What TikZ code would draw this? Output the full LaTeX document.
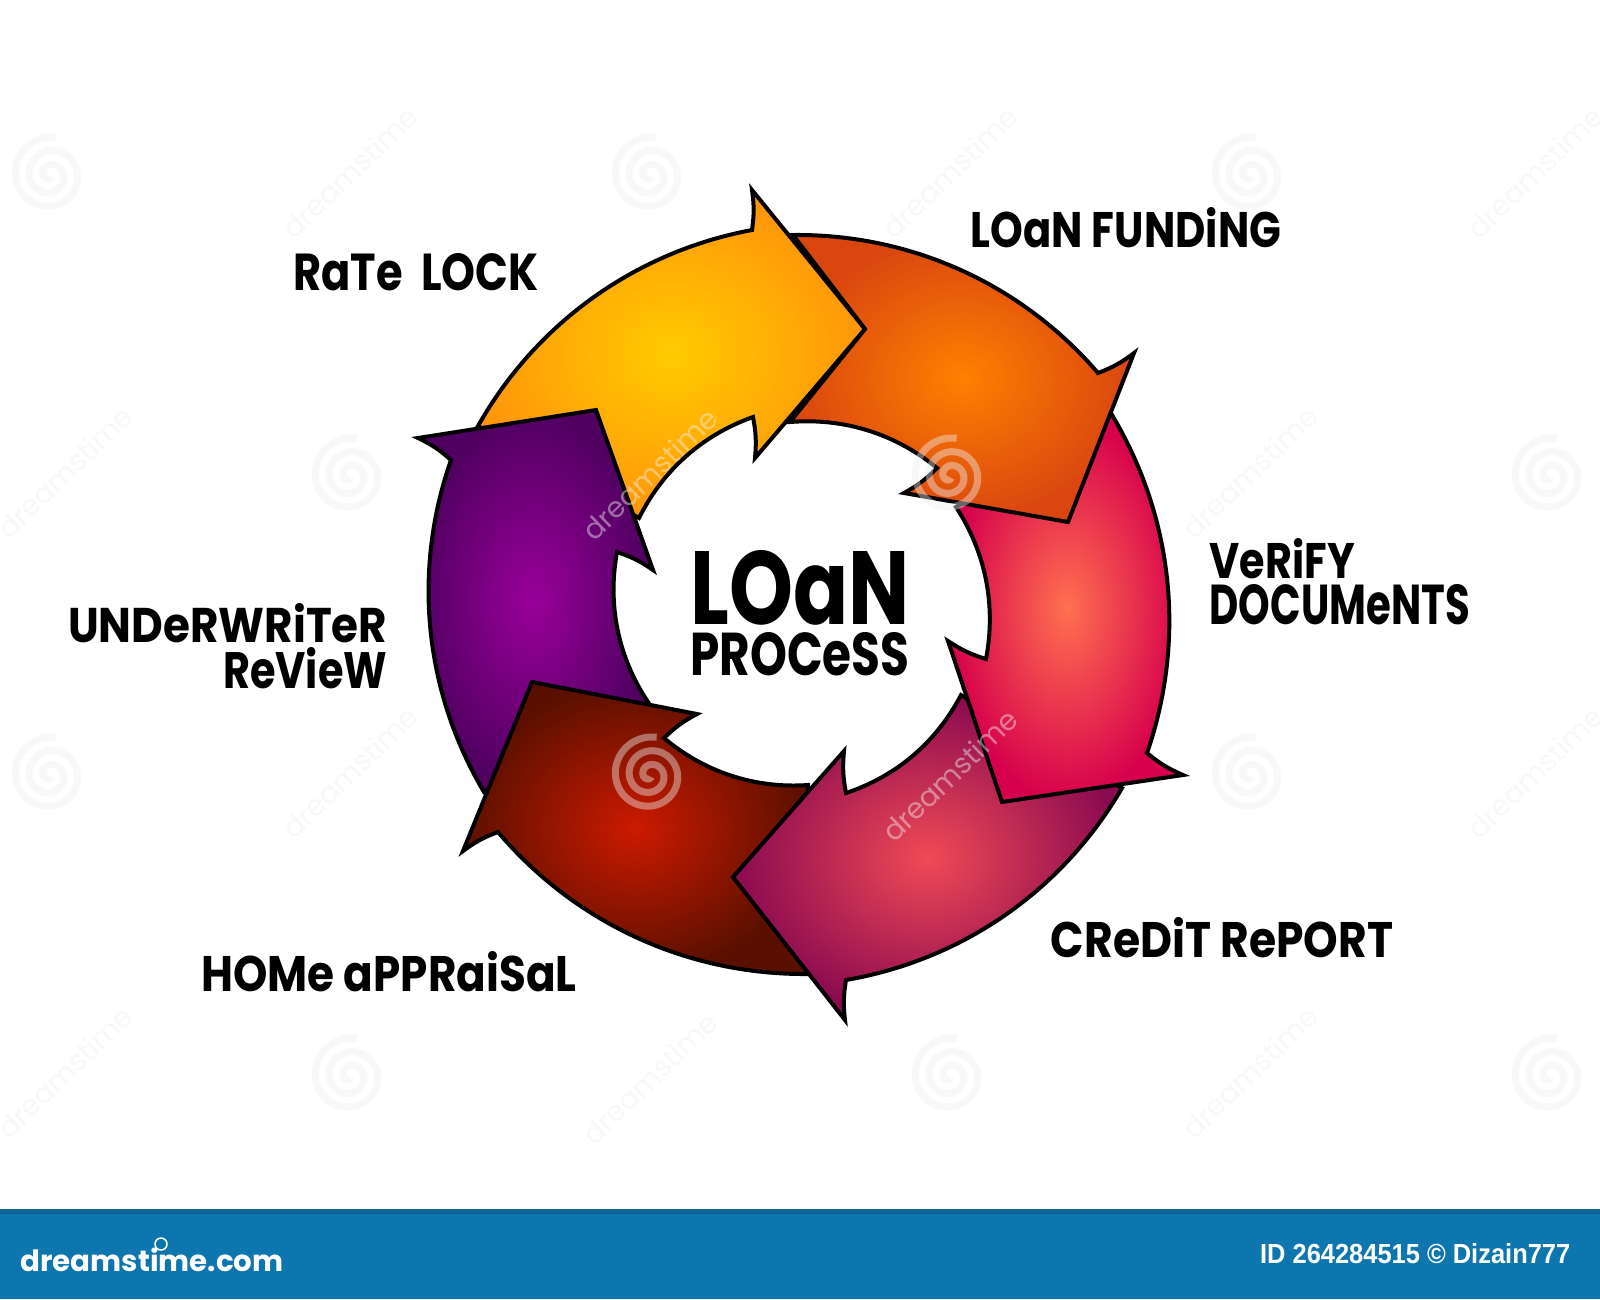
\documentclass[tikz,border=0pt]{standalone}
\usepackage{fontspec}
\usepackage{graphicx}
\setmainfont{Poppins}
\newfontfamily\footfont{Liberation Sans}
\definecolor{footbar}{HTML}{0E76AE}
\definecolor{markgray}{HTML}{F0F0F0}
\newcommand{\lettering}[3]{\resizebox{#1cm}{#2cm}{\bfseries #3}}
\tikzset{
  blade/.style={draw=black, line width=0.04cm, line join=miter},
  outerarc/.style={bend left=25, looseness=.9},
  innerarc/.style={bend right=22, looseness=.9},
  barbedge/.style={bend right=8},
  ratefill/.style={blade, inner color={rgb,255:red,255;green,204;blue,0}, outer color={rgb,255:red,255;green,150;blue,10}},
  fundfill/.style={blade, inner color={rgb,255:red,255;green,128;blue,0}, outer color={rgb,255:red,217;green,70;blue,16}},
  verifyfill/.style={blade, inner color={rgb,255:red,255;green,112;blue,80}, outer color={rgb,255:red,214;green,0;blue,76}},
  creditfill/.style={blade, inner color={rgb,255:red,240;green,74;blue,85}, outer color={rgb,255:red,138;green,10;blue,80}},
  homefill/.style={blade, inner color={rgb,255:red,204;green,26;blue,0}, outer color={rgb,255:red,90;green,16;blue,0}},
  reviewfill/.style={blade, inner color={rgb,255:red,153;green,0;blue,153}, outer color={rgb,255:red,79;green,0;blue,96}},
  label/.style={inner sep=0pt, text=black},
  wmspiral/.style={draw=markgray, opacity=.42, line width=0.07cm},
  wmtext/.style={text=markgray, opacity=.45, rotate=44, inner sep=0pt, font=\fontsize{8.1}{9}\selectfont}
}
\begin{document}
\begin{tikzpicture}[x=0.01cm, y=-0.01cm]
 \useasboundingbox (0,0) rectangle (1600,1299);
 \fill[white] (0,0) rectangle (1600,1299);

 \shadedraw[ratefill] (478,426) to[outerarc] (752,230) to[barbedge] (752,190) -- (865,329) -- (755,458) to[barbedge] (753,417) to[innerarc] (639,518) -- cycle;
 \shadedraw[reviewfill] (484,792) to[outerarc] (451,460) to[barbedge] (418,438) -- (596,410) -- (653,570) to[barbedge] (617,552) to[innerarc] (648,702) -- cycle;
 \shadedraw[homefill] (806,974) to[outerarc] (498,832) to[barbedge] (463,851) -- (532,682) -- (697,714) to[barbedge] (664,738) to[innerarc] (808,785) -- cycle;
 \shadedraw[creditfill] (1122,788) to[outerarc] (846,980) to[barbedge] (845,1020) -- (733,877) -- (844,751) to[barbedge] (846,793) to[innerarc] (961,695) -- cycle;
 \shadedraw[verifyfill] (1112,415) to[outerarc] (1147,753) to[barbedge] (1183,775) -- (1002,802) -- (948,641) to[barbedge] (986,659) to[innerarc] (956,507) -- cycle;
 \shadedraw[fundfill] (793,235) to[outerarc] (1098,373) to[barbedge] (1134,353) -- (1068,522) -- (904,493) to[barbedge] (937,468) to[innerarc] (790,422) -- (865,329) -- cycle;

 \node[label] (ratelock) at (416,272) {\lettering{2.45}{.37}{RaTe\ \ LOCK}};
 \node[label] (funding) at (1126,228) {\lettering{3.1}{.40}{LOaN FUNDiNG}};
 \node[label, anchor=west] (verify) at (1209,559) {\lettering{1.45}{.40}{VeRiFY}};
 \node[label, anchor=west] (documents) at (1209,605) {\lettering{2.6}{.40}{DOCUMeNTS}};
 \node[label] (credit) at (1222,938) {\lettering{3.42}{.40}{CReDiT RePORT}};
 \node[label] (appraisal) at (389,972) {\lettering{3.75}{.40}{HOMe aPPRaiSaL}};
 \node[label, anchor=east] (underwriter) at (388,623) {\lettering{3.19}{.39}{UNDeRWRiTeR}};
 \node[label, anchor=east] (review) at (388,668) {\lettering{1.64}{.41}{ReVieW}};
 \node[label] (loan) at (800,588) {\lettering{2.19}{.74}{LOaN}};
 \node[label] (process) at (800,654) {\lettering{2.19}{.43}{PROCeSS}};

 \foreach \mx/\my in {50/175,650/175,1250/175,350/476,950/476,1550/476,50/775,650/775,1250/775,350/1076,950/1076,1550/1076}
  \draw[wmspiral, shift={(\mx,\my)}] plot[domain=60:1000, samples=70, smooth, variable=\t] ({\t/26*cos(\t)},{\t/26*sin(\t)});
 \foreach \mx/\my [count=\mi] in {350/172,950/172,1535/172,65/472,650/474,1250/472,350/772,950/775,1535/772,65/1072,650/1078,1250/1072}
  \node[wmtext] (mark\mi) at (\mx,\my) {dreamstime};

 \fill[footbar] (0,1209) rectangle (1600,1299);
 \fill[footbar!85!black] (0,1209) rectangle (1600,1214);
 \node[inner sep=0pt, text=white] (site) at (152,1260) {\resizebox{2.63cm}{!}{\bfseries dreamstime.com}};
 \draw[white, line width=0.015cm] (161,1244) circle (6);
 \node[inner sep=0pt, text=white, anchor=east] (idline) at (1571,1254) {\resizebox{3.1cm}{.2cm}{\footfont\bfseries ID 264284515 © Dizain777}};
\end{tikzpicture}
\end{document}
